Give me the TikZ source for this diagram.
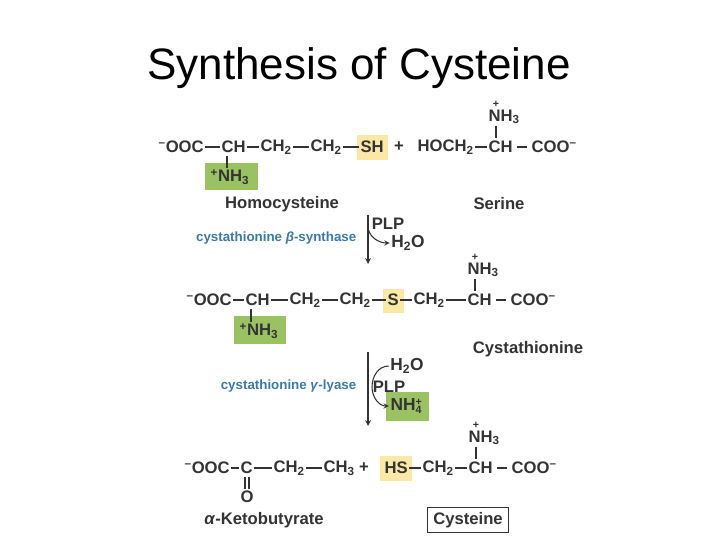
\documentclass[tikz,border=0pt]{standalone}
\usepackage{fontspec}
\setmainfont{Liberation Sans}
\definecolor{tx}{HTML}{333333}
\definecolor{grn}{HTML}{9BC262}
\definecolor{yel}{HTML}{FBE7A6}
\definecolor{enz}{HTML}{3A7AA8}
\newcommand{\sub}[1]{\textsubscript{#1}}
\newcommand{\chg}[1]{\textsuperscript{#1}}
\begin{document}
\begin{tikzpicture}[x=0.75pt,y=-0.75pt,
  a/.style={text=tx,font=\fontsize{12.5}{14}\selectfont\bfseries,inner sep=1pt,anchor=west},
  c/.style={a,anchor=center},
  q/.style={c,font=\fontsize{8}{9}\selectfont\bfseries},
  lab/.style={c},
  en/.style={text=enz,font=\fontsize{10}{12}\selectfont\bfseries,anchor=east},
  b/.style={draw=tx,line width=0.9pt,shorten <=2pt,shorten >=2pt},
  v/.style={draw=tx,line width=0.9pt},
  ar/.style={draw=tx,line width=1pt,-stealth}]
\useasboundingbox (0,0) rectangle (720,540);
\node[font=\fontsize{33}{38}\selectfont] (title) at (359,68) {Synthesis of Cysteine};
% row 1
\fill[yel] (357,135) rectangle (388,160);
\fill[grn] (205,163) rectangle (258,190);
\node[a] (r1a) at (157,147) {\chg{--}OOC};
\node[a] (r1b) at (220,147) {CH};
\node[a] (r1c) at (259,147) {CH\sub{2}};
\node[a] (r1d) at (309,147) {CH\sub{2}};
\node[a] (r1e) at (359,147) {SH};
\node[c] (r1p) at (399,147) {+};
\node[a] (r1f) at (416,147) {HOCH\sub{2}};
\node[a] (r1g) at (487,147) {CH};
\node[a] (r1h) at (530,147) {COO\chg{--}};
\node[a] (r1n) at (487,117) {NH\sub{3}};
\node[q] (r1q) at (496,104) {+};
\node[a] (r1m) at (209,177) {\chg{+}NH\sub{3}};
\draw[b] (r1a)--(r1b) (r1b)--(r1c) (r1c)--(r1d) (r1d)--(r1e) (r1f)--(r1g) (r1g)--(r1h);
\draw[v] (496,138)--(496,126);
\draw[v] (227,156)--(227,168);
\node[lab] (hcy) at (282,204) {Homocysteine};
\node[lab] (ser) at (499,204) {Serine};
% arrow 1
\coordinate (s1) at (368,215); \coordinate (e1) at (368,264);
\draw[ar] (s1)--(e1);
\node[c] (plp1) at (388,224) {PLP};
\node[c,font=\fontsize{13}{15}\selectfont\bfseries] (w1) at (408,243) {H\sub{2}O};
\draw[ar,line width=0.8pt] (368,226) to[out=-90,in=180] (w1.west);
\node[en] (enz1) at (361,238) {cystathionine \textit{β}-synthase};
% row 2
\fill[yel] (383,289) rectangle (404,313);
\fill[grn] (234,316) rectangle (286,344);
\node[a] (r2a) at (185,300) {\chg{--}OOC};
\node[a] (r2b) at (244,300) {CH};
\node[a] (r2c) at (288,300) {CH\sub{2}};
\node[a] (r2d) at (338,300) {CH\sub{2}};
\node[a] (r2e) at (386,300) {S};
\node[a] (r2f) at (412,300) {CH\sub{2}};
\node[a] (r2g) at (466,300) {CH};
\node[a] (r2h) at (509,300) {COO\chg{--}};
\node[a] (r2n) at (466,270) {NH\sub{3}};
\node[q] (r2q) at (475,257) {+};
\node[a] (r2m) at (238,331) {\chg{+}NH\sub{3}};
\draw[b] (r2a)--(r2b) (r2b)--(r2c) (r2c)--(r2d) (r2d)--(r2e) (r2e)--(r2f) (r2f)--(r2g) (r2g)--(r2h);
\draw[v] (475,291)--(475,279);
\draw[v] (251,309)--(251,322);
\node[lab] (cth) at (528,349) {Cystathionine};
% arrow 2
\fill[grn] (386,392) rectangle (429,421);
\coordinate (s2) at (368,352); \coordinate (e2) at (368,426);
\draw[ar] (s2)--(e2);
\node[c,font=\fontsize{13}{15}\selectfont\bfseries] (w2) at (407,366) {H\sub{2}O};
\node[c] (plp2) at (389,387) {PLP};
\node[c,font=\fontsize{13}{15}\selectfont\bfseries] (nh4) at (406,406) {NH\rlap{\raisebox{0.55ex}{\fontsize{8}{9}\selectfont +}}\raisebox{-0.35ex}{\fontsize{8}{9}\selectfont 4}};
\draw[ar,line width=0.8pt] (w2.west) to[out=180,in=90] (372,387) to[out=-90,in=180] (nh4.west);
\node[en] (enz2) at (361,386) {cystathionine \textit{γ}-lyase};
% row 3
\fill[yel] (380,456) rectangle (412,481);
\node[a] (r3a) at (183,468) {\chg{--}OOC};
\node[a] (r3b) at (239,468) {C};
\node[a] (r3c) at (272,468) {CH\sub{2}};
\node[a] (r3d) at (322,468) {CH\sub{3}};
\node[c] (r3p) at (364,468) {+};
\node[a] (r3e) at (383,468) {HS};
\node[a] (r3f) at (421,468) {CH\sub{2}};
\node[a] (r3g) at (467,468) {CH};
\node[a] (r3h) at (510,468) {COO\chg{--}};
\node[a] (r3n) at (467,438) {NH\sub{3}};
\node[q] (r3q) at (476,425) {+};
\node[c] (r3o) at (247,497) {O};
\draw[b] (r3a)--(r3b) (r3b)--(r3c) (r3c)--(r3d) (r3e)--(r3f) (r3f)--(r3g) (r3g)--(r3h);
\draw[v] (476,459)--(476,447);
\draw[v] (245,477)--(245,489) (249,477)--(249,489);
\node[lab] (kb) at (264,520) {\textit{α}-Ketobutyrate};
\node[lab,draw=tx,line width=1pt,minimum width=61pt,minimum height=19pt] (cys) at (468,520) {Cysteine};
\end{tikzpicture}
\end{document}
